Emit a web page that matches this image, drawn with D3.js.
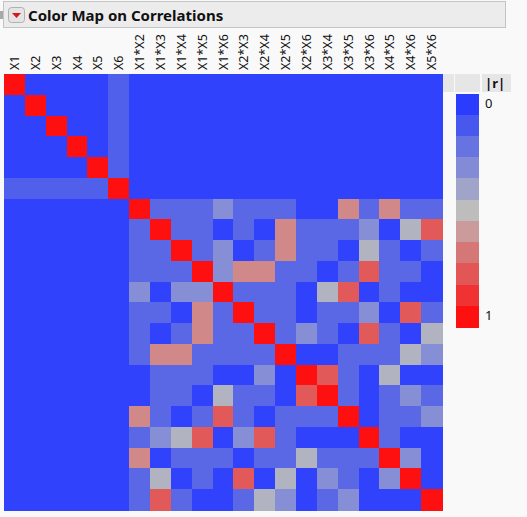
<!DOCTYPE html>
<html>
<head>
<meta charset="utf-8">
<script src="https://cdn.jsdelivr.net/npm/d3@7"></script>
<style>
  body { margin: 0; background: #f9f9f9; }
  svg { display: block; font-family: "Noto Sans", "Open Sans", sans-serif; }
</style>
</head>
<body>
<svg id="chart"></svg>
<script>
var width = 527, height = 517;

// term names (rows and columns of the map)
var terms = ["X1","X2","X3","X4","X5","X6",
  "X1*X2","X1*X3","X1*X4","X1*X5","X1*X6","X2*X3","X2*X4","X2*X5","X2*X6",
  "X3*X4","X3*X5","X3*X6","X4*X5","X4*X6","X5*X6"];

// |r| between terms, one row per term
var absR = [
  [1,.02,.02,.02,.02,.13, .02,.02,.02,.02,.02,.02,.02,.02,.02,.02,.02,.02,.02,.02,.02],
  [.02,1,.02,.02,.02,.13, .02,.02,.02,.02,.02,.02,.02,.02,.02,.02,.02,.02,.02,.02,.02],
  [.02,.02,1,.02,.02,.13, .02,.02,.02,.02,.02,.02,.02,.02,.02,.02,.02,.02,.02,.02,.02],
  [.02,.02,.02,1,.02,.13, .02,.02,.02,.02,.02,.02,.02,.02,.02,.02,.02,.02,.02,.02,.02],
  [.02,.02,.02,.02,1,.13, .02,.02,.02,.02,.02,.02,.02,.02,.02,.02,.02,.02,.02,.02,.02],
  [.13,.13,.13,.13,.13,1, .02,.02,.02,.02,.02,.02,.02,.02,.02,.02,.02,.02,.02,.02,.02],
  [.02,.02,.02,.02,.02,.02, 1,.16,.16,.16,.31,.16,.16,.16,.02,.02,.65,.16,.65,.16,.16],
  [.02,.02,.02,.02,.02,.02, .16,1,.16,.16,.02,.16,.02,.65,.16,.16,.16,.31,.02,.46,.79],
  [.02,.02,.02,.02,.02,.02, .16,.16,1,.16,.31,.02,.16,.65,.16,.16,.02,.46,.16,.02,.16],
  [.02,.02,.02,.02,.02,.02, .16,.16,.16,1,.31,.65,.65,.16,.16,.02,.16,.79,.16,.16,.02],
  [.02,.02,.02,.02,.02,.02, .31,.02,.31,.31,1,.16,.16,.16,.02,.46,.79,.02,.16,.02,.02],
  [.02,.02,.02,.02,.02,.02, .16,.16,.02,.65,.16,1,.16,.16,.02,.16,.16,.31,.02,.79,.16],
  [.02,.02,.02,.02,.02,.02, .16,.02,.16,.65,.16,.16,1,.16,.31,.16,.02,.79,.16,.02,.46],
  [.02,.02,.02,.02,.02,.02, .16,.65,.65,.16,.16,.16,.16,1,.02,.02,.16,.16,.16,.46,.31],
  [.02,.02,.02,.02,.02,.02, .02,.16,.16,.16,.02,.02,.31,.02,1,.79,.16,.02,.46,.02,.02],
  [.02,.02,.02,.02,.02,.02, .02,.16,.16,.02,.46,.16,.16,.02,.79,1,.16,.02,.16,.31,.16],
  [.02,.02,.02,.02,.02,.02, .65,.16,.02,.16,.79,.16,.02,.16,.16,.16,1,.02,.16,.16,.31],
  [.02,.02,.02,.02,.02,.02, .16,.31,.46,.79,.02,.31,.79,.16,.02,.02,.02,1,.16,.02,.02],
  [.02,.02,.02,.02,.02,.02, .65,.02,.16,.16,.16,.02,.16,.16,.46,.16,.16,.16,1,.31,.02],
  [.02,.02,.02,.02,.02,.02, .16,.46,.02,.16,.02,.79,.02,.46,.02,.31,.16,.02,.31,1,.02],
  [.02,.02,.02,.02,.02,.02, .16,.79,.16,.02,.02,.16,.46,.31,.02,.16,.31,.02,.02,.02,1]
];

// legend levels and their colours, blue (0) through grey to red (1)
var legendLevels = [0,.1,.2,.3,.4,.5,.6,.7,.8,.9,1];
var legendColors = ["#2b3cff","#4858ee","#6673e0","#838bd6","#a0a4c8","#bdbdbd",
                    "#cb9a9a","#d67777","#e25656","#f03232","#ff1010"];
var legendTicks = [0, 1];

var svg = d3.select("#chart").attr("width", width).attr("height", height);

var color = d3.scaleLinear().domain(legendLevels).range(legendColors).clamp(true);

// title bar
var head = svg.append("g");
head.append("rect").attr("x", 0).attr("y", 11).attr("width", 3).attr("height", 8).attr("fill", "#a8a8a8");
head.append("rect").attr("x", 3.5).attr("y", 1.5).attr("width", 502).attr("height", 26)
  .attr("fill", "#ececec").attr("stroke", "#c4c4c4");
head.append("rect").attr("x", 8.5).attr("y", 7.5).attr("width", 16).attr("height", 15).attr("rx", 3)
  .attr("fill", "#e4e4e4").attr("stroke", "#b0b0b0");
head.append("path").attr("d", "M12,13 L21,13 L16.5,18 Z").attr("fill", "#d81818");
head.append("text").attr("x", 28).attr("y", 21)
  .attr("font-size", "15px").attr("font-weight", "bold").attr("fill", "#111")
  .text("Color Map on Correlations");

// cell grid
var x = d3.scaleBand().domain(terms).range([4, 442]);
var y = d3.scaleBand().domain(terms).range([74, 510]);

var cells = [];
absR.forEach(function(row, i) {
  row.forEach(function(v, j) { cells.push({ r: terms[i], c: terms[j], v: v }); });
});

svg.append("g").selectAll("rect").data(cells).enter().append("rect")
  .attr("x", function(d) { return x(d.c); })
  .attr("y", function(d) { return y(d.r); })
  .attr("width", x.bandwidth() + 0.5)
  .attr("height", y.bandwidth() + 0.5)
  .attr("fill", function(d) { return color(d.v); })
  .attr("shape-rendering", "crispEdges");

// column labels, turned on their side
svg.append("g").selectAll("text").data(terms).enter().append("text")
  .attr("transform", function(d) { return "translate(" + (x(d) + x.bandwidth() / 2 + 4.5) + ",70) rotate(-90)"; })
  .attr("font-size", "12.5px").attr("fill", "#111")
  .text(function(d) { return d; });

// legend header boxes
svg.append("rect").attr("x", 443).attr("y", 74).attr("width", 11).attr("height", 18).attr("fill", "#e6e6e6");
svg.append("rect").attr("x", 455).attr("y", 74).attr("width", 25).attr("height", 18).attr("fill", "#e6e6e6");
svg.append("rect").attr("x", 482).attr("y", 74).attr("width", 29).attr("height", 18).attr("fill", "#e6e6e6");
svg.append("text").attr("x", 485).attr("y", 88).attr("font-size", "13px").attr("font-weight", "bold")
  .attr("fill", "#111").text("|r|");

// legend swatches
var ly = d3.scaleBand().domain(legendLevels).range([93.5, 327]);
svg.append("g").selectAll("rect").data(legendLevels).enter().append("rect")
  .attr("x", 456).attr("y", function(d) { return ly(d); })
  .attr("width", 23).attr("height", ly.bandwidth() + 0.5)
  .attr("fill", function(d) { return color(d); })
  .attr("shape-rendering", "crispEdges");

svg.append("g").selectAll("text").data(legendTicks).enter().append("text")
  .attr("x", 485).attr("y", function(d) { return ly(d) + ly.bandwidth() / 2 + 4; })
  .attr("font-size", "13px").attr("fill", "#111")
  .text(function(d) { return d; });
</script>
</body>
</html>
